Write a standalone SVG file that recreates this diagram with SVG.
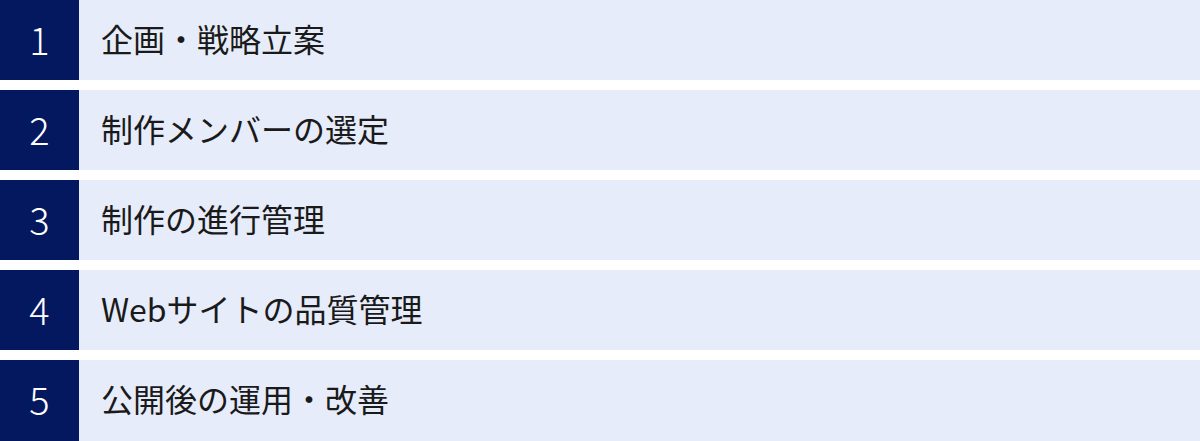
<svg xmlns="http://www.w3.org/2000/svg" width="1200" height="441" viewBox="0 0 1200 441">
<style>
.band{fill:#e6ecf9}
.num{fill:#04185f}
.nt{font-family:"Noto Sans CJK JP","Noto Sans",sans-serif;font-size:38px;font-weight:300;fill:#ffffff;text-anchor:middle;dominant-baseline:central}
.lt{font-family:"Noto Sans CJK JP","Noto Sans",sans-serif;font-size:32px;fill:#1a1a1a;dominant-baseline:central}
</style>
<rect x="0" y="0" width="1200" height="441" fill="#ffffff"/>
<g id="step1">
<rect class="band" x="79" y="0" width="1121" height="80"/>
<rect class="num" x="0" y="0" width="79" height="80"/>
<text class="nt" x="39.5" y="38.5">1</text>
<text class="lt" x="101" y="38">企画・戦略立案</text>
</g>
<g id="step2">
<rect class="band" x="79" y="90" width="1121" height="80"/>
<rect class="num" x="0" y="90" width="79" height="80"/>
<text class="nt" x="39.5" y="128.5">2</text>
<text class="lt" x="101" y="128">制作メンバーの選定</text>
</g>
<g id="step3">
<rect class="band" x="79" y="180" width="1121" height="80"/>
<rect class="num" x="0" y="180" width="79" height="80"/>
<text class="nt" x="39.5" y="218.5">3</text>
<text class="lt" x="101" y="218">制作の進行管理</text>
</g>
<g id="step4">
<rect class="band" x="79" y="270" width="1121" height="80"/>
<rect class="num" x="0" y="270" width="79" height="80"/>
<text class="nt" x="39.5" y="308.5">4</text>
<text class="lt" x="101" y="308">Webサイトの品質管理</text>
</g>
<g id="step5">
<rect class="band" x="79" y="360" width="1121" height="81"/>
<rect class="num" x="0" y="360" width="79" height="81"/>
<text class="nt" x="39.5" y="398.5">5</text>
<text class="lt" x="101" y="398">公開後の運用・改善</text>
</g>
<g id="connectors"></g>
</svg>
